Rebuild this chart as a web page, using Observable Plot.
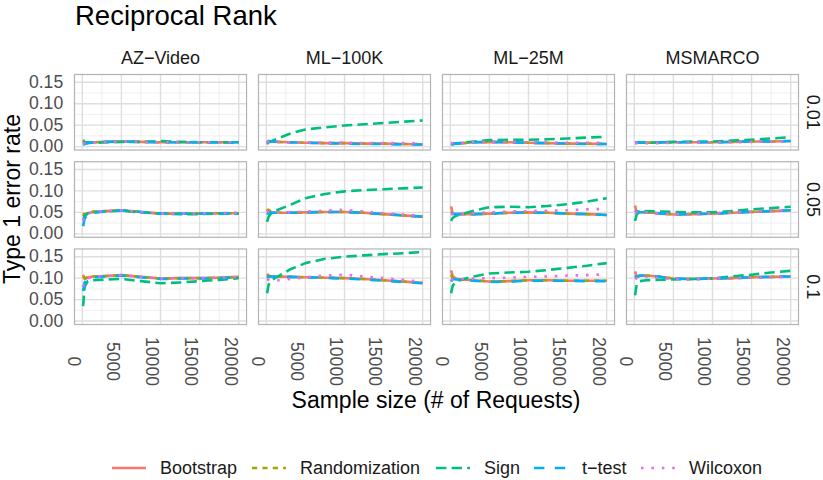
<!DOCTYPE html>
<html><head><meta charset="utf-8">
<script src="https://cdn.jsdelivr.net/npm/d3@7"></script>
<script src="https://cdn.jsdelivr.net/npm/@observablehq/plot@0.6"></script>
<style>
body{margin:0;background:#fff;font-family:"Liberation Sans",Arial,Helvetica,sans-serif;}
#wrap{position:relative;width:823px;height:480px;overflow:hidden;background:#fff;}
#title{position:absolute;left:75px;top:0px;font-size:27.5px;line-height:31px;color:#000;white-space:nowrap;}
#chart{position:absolute;left:0;top:40px;}
#legend{position:absolute;left:0;top:440px;width:823px;height:40px;}
.key{position:absolute;top:23px;}
.lab{position:absolute;top:19.2px;font-size:18px;line-height:18px;color:#1a1a1a;white-space:nowrap;}
</style></head>
<body>
<div id="wrap">
  <div id="title">Reciprocal Rank</div>
  <div id="chart"></div>
  <div id="legend"></div>
</div>
<script>
// ---- categories ----
const datasets = ["AZ−Video", "ML−100K", "ML−25M", "MSMARCO"];
const alphas = ["0.01", "0.05", "0.1"];
const tests = ["Bootstrap", "Randomization", "Sign", "t−test", "Wilcoxon"];
const testColors = ["#F8766D", "#A3A500", "#00BF7D", "#00B0F6", "#E76BF3"];
const sampleSizes = [100, 300, 700, 1500, 3000, 5000, 7500, 10000, 12500, 15000, 17500, 20000];
const xTicks = [0, 5000, 10000, 15000, 20000];
const xMinor = [2500, 7500, 12500, 17500];
const yTicks = [0, 0.05, 0.10, 0.15];
const yMinor = [0.025, 0.075, 0.125];

// ---- series values: each panel = [Bootstrap, Randomization, Sign, t-test, Wilcoxon] ----
const azVideo_001 = [
  [0.010, 0.008, 0.009, 0.010, 0.011, 0.012, 0.011, 0.010, 0.010, 0.010, 0.010, 0.010],
  [0.016, 0.010, 0.009, 0.010, 0.011, 0.012, 0.011, 0.010, 0.010, 0.010, 0.010, 0.010],
  [0.012, 0.010, 0.010, 0.009, 0.010, 0.011, 0.011, 0.013, 0.011, 0.010, 0.010, 0.009],
  [0.004, 0.006, 0.008, 0.010, 0.011, 0.012, 0.011, 0.010, 0.010, 0.010, 0.010, 0.010],
  [0.006, 0.008, 0.009, 0.010, 0.011, 0.012, 0.011, 0.010, 0.010, 0.010, 0.010, 0.010]
];
const azVideo_005 = [
  [0.045, 0.040, 0.048, 0.051, 0.053, 0.055, 0.051, 0.047, 0.047, 0.047, 0.048, 0.048],
  [0.048, 0.044, 0.050, 0.052, 0.053, 0.055, 0.051, 0.047, 0.047, 0.047, 0.048, 0.048],
  [0.030, 0.042, 0.048, 0.050, 0.052, 0.054, 0.050, 0.047, 0.046, 0.046, 0.047, 0.047],
  [0.018, 0.035, 0.046, 0.050, 0.052, 0.055, 0.051, 0.047, 0.047, 0.047, 0.048, 0.048],
  [0.030, 0.040, 0.048, 0.051, 0.053, 0.055, 0.051, 0.047, 0.047, 0.048, 0.048, 0.049]
];
const azVideo_010 = [
  [0.108, 0.098, 0.102, 0.104, 0.105, 0.107, 0.103, 0.099, 0.100, 0.100, 0.101, 0.103],
  [0.104, 0.100, 0.102, 0.104, 0.105, 0.107, 0.103, 0.099, 0.100, 0.100, 0.101, 0.103],
  [0.035, 0.080, 0.093, 0.095, 0.097, 0.098, 0.093, 0.088, 0.090, 0.093, 0.096, 0.100],
  [0.070, 0.090, 0.098, 0.102, 0.104, 0.106, 0.102, 0.098, 0.099, 0.099, 0.100, 0.102],
  [0.080, 0.094, 0.100, 0.103, 0.105, 0.107, 0.103, 0.099, 0.100, 0.100, 0.101, 0.103]
];
const ml100k_001 = [
  [0.010, 0.013, 0.012, 0.011, 0.010, 0.009, 0.008, 0.008, 0.007, 0.007, 0.006, 0.005],
  [0.012, 0.013, 0.012, 0.011, 0.010, 0.009, 0.008, 0.008, 0.007, 0.007, 0.006, 0.006],
  [0.006, 0.010, 0.013, 0.019, 0.030, 0.040, 0.045, 0.049, 0.052, 0.055, 0.058, 0.061],
  [0.008, 0.012, 0.012, 0.011, 0.010, 0.009, 0.008, 0.007, 0.006, 0.006, 0.005, 0.005],
  [0.009, 0.012, 0.012, 0.011, 0.010, 0.010, 0.009, 0.009, 0.008, 0.008, 0.008, 0.008]
];
const ml100k_005 = [
  [0.058, 0.048, 0.050, 0.049, 0.049, 0.050, 0.051, 0.051, 0.049, 0.046, 0.043, 0.040],
  [0.055, 0.056, 0.049, 0.049, 0.049, 0.050, 0.051, 0.051, 0.049, 0.046, 0.043, 0.040],
  [0.028, 0.040, 0.050, 0.056, 0.067, 0.083, 0.093, 0.099, 0.102, 0.104, 0.106, 0.108],
  [0.045, 0.050, 0.049, 0.049, 0.049, 0.050, 0.051, 0.051, 0.049, 0.046, 0.043, 0.040],
  [0.050, 0.052, 0.050, 0.050, 0.050, 0.052, 0.054, 0.056, 0.052, 0.048, 0.045, 0.042]
];
const ml100k_010 = [
  [0.110, 0.106, 0.104, 0.104, 0.103, 0.102, 0.101, 0.100, 0.098, 0.095, 0.092, 0.089],
  [0.108, 0.105, 0.104, 0.104, 0.103, 0.102, 0.101, 0.100, 0.098, 0.095, 0.092, 0.089],
  [0.065, 0.085, 0.096, 0.104, 0.120, 0.135, 0.145, 0.150, 0.153, 0.156, 0.158, 0.161],
  [0.100, 0.104, 0.104, 0.104, 0.103, 0.102, 0.101, 0.099, 0.097, 0.094, 0.091, 0.088],
  [0.095, 0.097, 0.095, 0.095, 0.098, 0.102, 0.106, 0.108, 0.104, 0.100, 0.096, 0.091]
];
const ml25m_001 = [
  [0.007, 0.006, 0.007, 0.008, 0.010, 0.011, 0.010, 0.009, 0.008, 0.007, 0.007, 0.006],
  [0.007, 0.006, 0.007, 0.008, 0.010, 0.011, 0.010, 0.009, 0.008, 0.007, 0.007, 0.006],
  [0.005, 0.006, 0.007, 0.009, 0.012, 0.015, 0.016, 0.016, 0.017, 0.019, 0.021, 0.023],
  [0.005, 0.006, 0.007, 0.008, 0.010, 0.011, 0.010, 0.009, 0.008, 0.007, 0.006, 0.006],
  [0.008, 0.008, 0.008, 0.009, 0.010, 0.011, 0.011, 0.010, 0.010, 0.009, 0.009, 0.009]
];
const ml25m_005 = [
  [0.064, 0.047, 0.046, 0.046, 0.046, 0.047, 0.049, 0.050, 0.049, 0.047, 0.046, 0.044],
  [0.052, 0.047, 0.046, 0.046, 0.046, 0.047, 0.049, 0.050, 0.049, 0.047, 0.046, 0.044],
  [0.030, 0.037, 0.042, 0.046, 0.054, 0.062, 0.063, 0.062, 0.065, 0.069, 0.075, 0.083],
  [0.048, 0.047, 0.046, 0.046, 0.046, 0.047, 0.049, 0.050, 0.049, 0.047, 0.046, 0.044],
  [0.045, 0.046, 0.046, 0.047, 0.048, 0.050, 0.052, 0.053, 0.054, 0.055, 0.057, 0.058]
];
const ml25m_010 = [
  [0.118, 0.105, 0.099, 0.097, 0.095, 0.092, 0.093, 0.095, 0.095, 0.094, 0.094, 0.094],
  [0.108, 0.100, 0.098, 0.097, 0.095, 0.092, 0.093, 0.095, 0.095, 0.094, 0.094, 0.094],
  [0.065, 0.082, 0.092, 0.097, 0.104, 0.111, 0.113, 0.115, 0.119, 0.124, 0.129, 0.135],
  [0.092, 0.098, 0.097, 0.096, 0.094, 0.091, 0.092, 0.094, 0.094, 0.094, 0.093, 0.093],
  [0.095, 0.097, 0.098, 0.098, 0.099, 0.100, 0.101, 0.103, 0.104, 0.106, 0.107, 0.109]
];
const msmarco_001 = [
  [0.009, 0.009, 0.009, 0.009, 0.009, 0.010, 0.010, 0.010, 0.011, 0.012, 0.012, 0.013],
  [0.009, 0.009, 0.009, 0.009, 0.009, 0.010, 0.010, 0.010, 0.011, 0.012, 0.012, 0.013],
  [0.008, 0.009, 0.009, 0.009, 0.010, 0.011, 0.012, 0.012, 0.014, 0.016, 0.019, 0.022],
  [0.010, 0.010, 0.010, 0.010, 0.010, 0.010, 0.010, 0.010, 0.011, 0.012, 0.012, 0.013],
  [0.008, 0.008, 0.008, 0.008, 0.008, 0.009, 0.009, 0.010, 0.010, 0.011, 0.012, 0.013]
];
const msmarco_005 = [
  [0.066, 0.050, 0.051, 0.050, 0.048, 0.045, 0.046, 0.047, 0.049, 0.051, 0.053, 0.055],
  [0.055, 0.052, 0.051, 0.050, 0.048, 0.045, 0.046, 0.047, 0.049, 0.051, 0.053, 0.055],
  [0.030, 0.045, 0.052, 0.053, 0.052, 0.051, 0.050, 0.050, 0.053, 0.057, 0.060, 0.063],
  [0.050, 0.052, 0.051, 0.050, 0.048, 0.045, 0.046, 0.047, 0.049, 0.051, 0.053, 0.055],
  [0.048, 0.050, 0.050, 0.050, 0.048, 0.046, 0.046, 0.048, 0.050, 0.052, 0.054, 0.056]
];
const msmarco_010 = [
  [0.116, 0.103, 0.105, 0.106, 0.104, 0.099, 0.098, 0.099, 0.100, 0.102, 0.103, 0.104],
  [0.106, 0.103, 0.105, 0.106, 0.104, 0.099, 0.098, 0.099, 0.100, 0.102, 0.103, 0.104],
  [0.060, 0.085, 0.093, 0.095, 0.096, 0.097, 0.098, 0.100, 0.104, 0.108, 0.113, 0.117],
  [0.100, 0.104, 0.106, 0.106, 0.104, 0.099, 0.098, 0.099, 0.100, 0.102, 0.103, 0.104],
  [0.098, 0.100, 0.102, 0.103, 0.101, 0.098, 0.097, 0.099, 0.100, 0.101, 0.102, 0.103]
];

const panels = [
  [datasets[0], alphas[0], azVideo_001], [datasets[0], alphas[1], azVideo_005], [datasets[0], alphas[2], azVideo_010],
  [datasets[1], alphas[0], ml100k_001], [datasets[1], alphas[1], ml100k_005], [datasets[1], alphas[2], ml100k_010],
  [datasets[2], alphas[0], ml25m_001], [datasets[2], alphas[1], ml25m_005], [datasets[2], alphas[2], ml25m_010],
  [datasets[3], alphas[0], msmarco_001], [datasets[3], alphas[1], msmarco_005], [datasets[3], alphas[2], msmarco_010]
];

const rows = [];
for (const [ds, a, series] of panels) {
  series.forEach((vals, i) => vals.forEach((v, j) => rows.push({dataset: ds, alpha: a, test: tests[i], n: sampleSizes[j], rate: v})));
}

// ggplot default linetypes: solid, 22, 42, 44, 13 (scaled by line width)
const lw = 2.6;
const dashes = ["none", `${2*lw},${2*lw}`, `${4*lw},${2*lw}`, `${4*lw},${4*lw}`, `${1*lw},${3*lw}`];

const fontStack = "'Liberation Sans', Arial, Helvetica, sans-serif";

const chart = Plot.plot({
  width: 823,
  height: 400,
  marginTop: 34,
  marginBottom: 116,
  marginLeft: 74,
  marginRight: 25,
  style: {fontFamily: fontStack, fontSize: "17.6px", background: "white", overflow: "visible"},
  x: {domain: [-1000, 21000]},
  y: {domain: [-0.008, 0.168]},
  fx: {domain: datasets, paddingInner: 0.065, paddingOuter: 0, round: false, label: null},
  fy: {domain: alphas, paddingInner: 0.134, paddingOuter: 0, round: false, label: null},
  color: {domain: tests, range: testColors},
  marks: [
    Plot.gridX(xMinor, {stroke: "#ebebeb", strokeOpacity: 1, strokeWidth: 0.8}),
    Plot.gridY(yMinor, {stroke: "#ebebeb", strokeOpacity: 1, strokeWidth: 0.8}),
    Plot.gridX(xTicks, {stroke: "#dedede", strokeOpacity: 1, strokeWidth: 1.4}),
    Plot.gridY(yTicks, {stroke: "#dedede", strokeOpacity: 1, strokeWidth: 1.4}),
    ...tests.map((t, i) => Plot.line(rows.filter(d => d.test === t), {
      x: "n", y: "rate", fx: "dataset", fy: "alpha", stroke: "test",
      strokeWidth: lw, strokeDasharray: dashes[i], strokeLinecap: "butt", strokeLinejoin: "round"
    })),
    Plot.frame({stroke: "#b3b3b3", strokeWidth: 1.2}),
    Plot.axisX({ticks: xTicks, tickFormat: d => String(d), tickSize: 0, tickPadding: 37, tickRotate: 90,
      textAnchor: "middle", lineAnchor: "middle", dx: -8.5, fontSize: 17.6, fill: "#4d4d4d", label: null}),
    Plot.axisY({ticks: yTicks, tickFormat: d3.format(".2f"), tickSize: 0, tickPadding: 11.3,
      fontSize: 17.6, fill: "#4d4d4d", label: null}),
    Plot.axisFx({anchor: "top", tickSize: 0, tickPadding: 10.7, fontSize: 18, fill: "#1a1a1a", label: null}),
    Plot.axisFy({anchor: "right", tickSize: 0, tickPadding: 8.8, tickRotate: 90, textAnchor: "middle",
      lineAnchor: "bottom", fontSize: 18, fill: "#1a1a1a", label: null})
  ]
});
document.getElementById("chart").appendChild(chart);

// axis titles
const svg = d3.select(chart);
svg.append("text").attr("transform", "translate(19.5,159) rotate(-90)")
  .attr("text-anchor", "middle").attr("font-size", 23).attr("fill", "#000")
  .attr("font-family", fontStack).text("Type 1 error rate");
svg.append("text").attr("x", 436).attr("y", 368)
  .attr("text-anchor", "middle").attr("font-size", 23).attr("fill", "#000")
  .attr("font-family", fontStack).text("Sample size (# of Requests)");

// legend
const legendPos = [[112, 160], [252, 300], [436, 484], [534, 582], [641, 689]];
const legend = document.getElementById("legend");
tests.forEach((t, i) => {
  const [kx, tx] = legendPos[i];
  const ns = "http://www.w3.org/2000/svg";
  const k = document.createElementNS(ns, "svg");
  k.setAttribute("class", "key"); k.setAttribute("width", 34); k.setAttribute("height", 10);
  k.style.left = kx + "px";
  const ln = document.createElementNS(ns, "line");
  ln.setAttribute("x1", 0); ln.setAttribute("x2", 34); ln.setAttribute("y1", 5); ln.setAttribute("y2", 5);
  ln.setAttribute("stroke", testColors[i]); ln.setAttribute("stroke-width", lw);
  if (dashes[i] !== "none") ln.setAttribute("stroke-dasharray", dashes[i]);
  k.appendChild(ln);
  legend.appendChild(k);
  const s = document.createElement("span");
  s.className = "lab"; s.style.left = tx + "px"; s.textContent = t;
  legend.appendChild(s);
});
</script>
</body></html>
